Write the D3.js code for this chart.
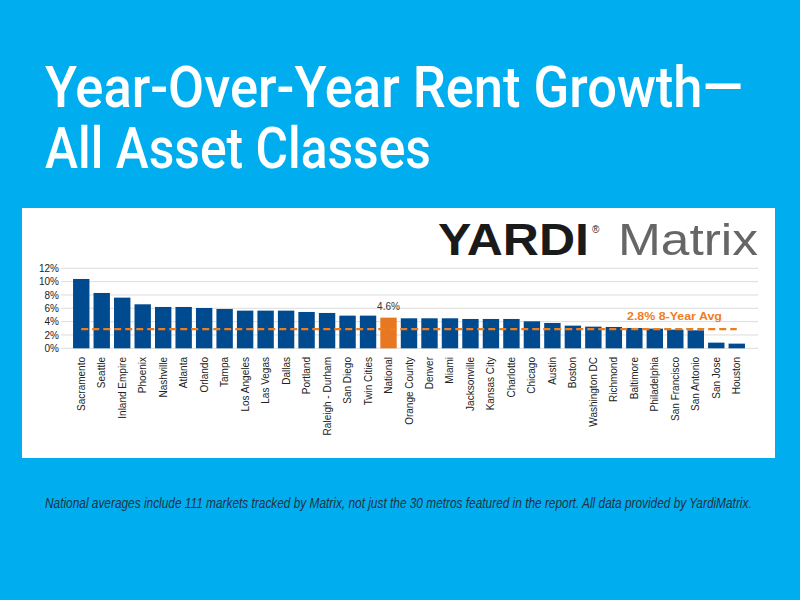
<!DOCTYPE html>
<html lang="en">
<head>
  <meta charset="utf-8">
  <title>Year-Over-Year Rent Growth</title>
  <script src="https://d3js.org/d3.v7.min.js"></script>
  <style>
    html, body { margin: 0; padding: 0; background: #00aeef; }
    svg { display: block; }
  </style>
</head>
<body>
<script>
  // data
  const cities = ["Sacramento", "Seattle", "Inland Empire", "Phoenix", "Nashville", "Atlanta",
    "Orlando", "Tampa", "Los Angeles", "Las Vegas", "Dallas", "Portland", "Raleigh - Durham",
    "San Diego", "Twin Cities", "National", "Orange County", "Denver", "Miami", "Jacksonville",
    "Kansas City", "Charlotte", "Chicago", "Austin", "Boston", "Washington DC", "Richmond",
    "Baltimore", "Philadelphia", "San Francisco", "San Antonio", "San Jose", "Houston"];
  const growth = [10.4, 8.3, 7.6, 6.6, 6.2, 6.2, 6.05, 5.9, 5.65, 5.65, 5.65, 5.45, 5.3,
    4.9, 4.9, 4.6, 4.5, 4.5, 4.5, 4.4, 4.4, 4.4, 4.05, 3.8, 3.4, 3.25, 3.2, 3.05, 2.95,
    2.8, 2.7, 0.85, 0.7];
  const yTicks = [0, 2, 4, 6, 8, 10, 12];
  const avgValue = 2.8;
  const avgLabel = "2.8% 8-Year Avg";
  const highlight = "National";
  const titleLines = ["Year-Over-Year Rent Growth\u2014", "All Asset Classes"];
  const footnote = "National averages include 111 markets tracked by Matrix, not just the 30 metros featured in the report. All data provided by YardiMatrix.";

  const W = 800, H = 600;
  const svg = d3.select("body").append("svg")
    .attr("width", W)
    .attr("height", H);

  svg.append("rect").attr("width", W).attr("height", H).attr("fill", "#00aeef");

  // squeeze a text horizontally so it spans the given width (condensed look)
  function fitWidth(node, x, y, width) {
    const len = node.getComputedTextLength();
    const sx = width / len;
    d3.select(node).attr("transform", "translate(" + x + "," + y + ") scale(" + sx + ",1)");
  }

  // title
  const titleWidths = [698, 386];
  svg.selectAll(".title")
    .data(titleLines)
    .enter().append("text")
    .attr("class", "title")
    .attr("fill", "#ffffff")
    .attr("font-family", "Roboto, 'Liberation Sans', sans-serif")
    .attr("font-weight", 500)
    .attr("font-size", 57)
    .text(d => d)
    .each(function (d, i) { fitWidth(this, 45, 107 + i * 61, titleWidths[i]); });

  // white panel
  svg.append("rect")
    .attr("x", 22).attr("y", 208)
    .attr("width", 753).attr("height", 250)
    .attr("fill", "#ffffff");

  // logo
  svg.append("text")
    .attr("font-family", "'Liberation Sans', Arial, sans-serif")
    .attr("font-size", 45)
    .attr("font-weight", "bold")
    .attr("fill", "#1a1a1a")
    .text("YARDI")
    .each(function () { fitWidth(this, 438, 255, 151); });
  svg.append("text")
    .attr("x", 592).attr("y", 233)
    .attr("font-family", "'Liberation Sans', Arial, sans-serif")
    .attr("font-size", 10)
    .attr("fill", "#1a1a1a")
    .text("\u00ae");
  svg.append("text")
    .attr("font-family", "'Liberation Sans', Arial, sans-serif")
    .attr("font-size", 45)
    .attr("fill", "#666666")
    .text("Matrix")
    .each(function () { fitWidth(this, 618, 255, 140); });

  // scales
  const xScale = d3.scaleBand()
    .domain(cities)
    .range([71, 747])
    .paddingInner(0.2)
    .paddingOuter(0.1);

  const yScale = d3.scaleLinear()
    .domain([0, 12])
    .range([348.3, 268.3]);

  // gridlines
  svg.selectAll(".grid")
    .data(yTicks)
    .enter().append("line")
    .attr("class", "grid")
    .attr("x1", 61).attr("x2", 758)
    .attr("y1", d => yScale(d)).attr("y2", d => yScale(d))
    .attr("stroke", "#dcdcdc")
    .attr("stroke-width", 1);

  // y axis labels
  const yAxis = svg.append("g")
    .attr("transform", "translate(61,0)")
    .call(d3.axisLeft(yScale).tickValues(yTicks).tickSize(0).tickPadding(2).tickFormat(d => d + "%"));
  yAxis.select(".domain").remove();
  yAxis.selectAll("text")
    .attr("font-family", "'Liberation Sans', Arial, sans-serif")
    .attr("font-size", 10)
    .attr("fill", "#222");

  // bars
  svg.selectAll(".bar")
    .data(cities)
    .enter().append("rect")
    .attr("class", "bar")
    .attr("x", d => xScale(d))
    .attr("width", xScale.bandwidth())
    .attr("y", (d, i) => yScale(growth[i]))
    .attr("height", (d, i) => yScale(0) - yScale(growth[i]))
    .attr("fill", d => d === highlight ? "#e87722" : "#004a8f");

  // x labels
  svg.selectAll(".xlabel")
    .data(cities)
    .enter().append("text")
    .attr("class", "xlabel")
    .attr("transform", d => "translate(" + (xScale(d) + xScale.bandwidth() / 2 + 3.5) + ",357) rotate(-90)")
    .attr("text-anchor", "end")
    .attr("font-family", "'Liberation Sans', Arial, sans-serif")
    .attr("font-size", 10)
    .attr("fill", "#222")
    .text(d => d);

  // national value label
  const hi = cities.indexOf(highlight);
  svg.append("text")
    .attr("x", xScale(highlight) + xScale.bandwidth() / 2)
    .attr("y", yScale(growth[hi]) - 8)
    .attr("text-anchor", "middle")
    .attr("font-family", "'Liberation Sans', Arial, sans-serif")
    .attr("font-size", 10)
    .attr("fill", "#333")
    .text(growth[hi].toFixed(1) + "%");

  // 8-year average line
  svg.append("line")
    .attr("x1", xScale(cities[0]) + xScale.bandwidth() / 2)
    .attr("x2", xScale(cities[cities.length - 1]) + xScale.bandwidth() / 2)
    .attr("y1", yScale(avgValue) - 0.5)
    .attr("y2", yScale(avgValue) - 0.5)
    .attr("stroke", "#f07d1c")
    .attr("stroke-width", 2.2)
    .attr("stroke-dasharray", "7,4");

  svg.append("text")
    .attr("font-family", "'Liberation Sans', Arial, sans-serif")
    .attr("font-size", 11.5)
    .attr("font-weight", "bold")
    .attr("fill", "#ef7d22")
    .text(avgLabel)
    .each(function () { fitWidth(this, 627, 320, 95); });

  // footnote
  svg.append("text")
    .attr("font-family", "'Liberation Sans', Arial, sans-serif")
    .attr("font-style", "italic")
    .attr("font-size", 15.5)
    .attr("fill", "#1f3345")
    .text(footnote)
    .each(function () { fitWidth(this, 45, 508, 707); });
</script>
</body>
</html>
